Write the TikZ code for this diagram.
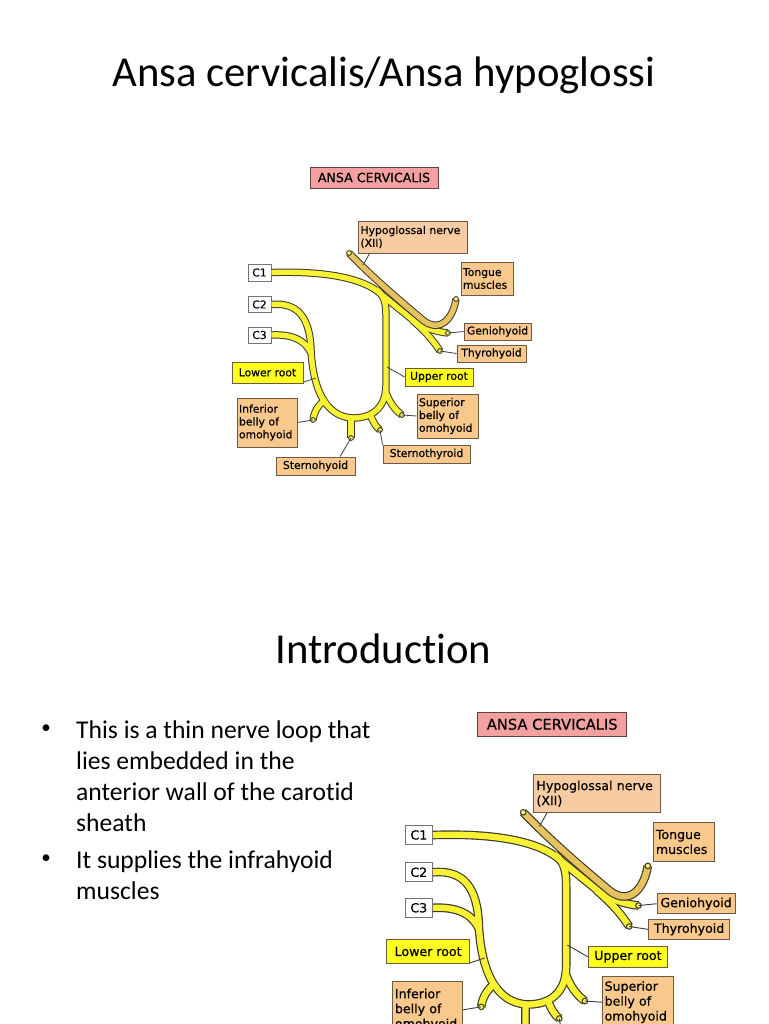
\documentclass[tikz,border=0pt]{standalone}
\usepackage{fontspec}
\setmainfont{Carlito}[Ligatures={NoCommon,NoRare}]
\newfontfamily\lblfont{DejaVu Sans}[FakeBold=0.5]
\definecolor{nerveY}{HTML}{F8F232}
\definecolor{nerveT}{HTML}{E8C25E}
\definecolor{outl}{HTML}{3A3A2C}
\definecolor{peach}{HTML}{F8C88C}
\definecolor{peachL}{HTML}{F8CCA2}
\definecolor{pinkbox}{HTML}{F2A0A0}
\definecolor{ybox}{HTML}{FFFF1E}
\definecolor{boxedge}{HTML}{6E5A44}
\tikzset{
  lbox/.style={draw=boxedge, line width={0.9pt*\dsc}, fill=peach, inner sep=0pt,
    font=\lblfont\fontsize{10.8}{12.8}\selectfont, text=black},
  cbox/.style={lbox, fill=white, draw=black!55, minimum width=23pt, minimum height=16pt},
  ybx/.style={lbox, fill=ybox},
  nout/.style={draw=outl, line width={7.4pt*\dsc}},
  nin/.style={draw=nerveY, line width={5.4pt*\dsc}},
  tout/.style={draw=outl, line width={7.4pt*\dsc}},
  tin/.style={draw=nerveT, line width={5.4pt*\dsc}},
  tipend/.style={draw=outl, fill=nerveY!70!white, line width={0.9pt*\dsc}},
  leader/.style={draw=black!75, line width={0.8pt*\dsc}},
  slidetitle/.style={anchor=base, font=\fontsize{42.7}{51}\selectfont, text=black},
  bullettext/.style={anchor=base west, inner sep=0pt, font=\fontsize{25.6}{31}\selectfont, text=black},
  bulletdot/.style={inner sep=0pt, font=\fontsize{19}{20}\selectfont, text=black}
}
\newcommand\ansanerves[1]{%
  \draw[#1] (c1.east) .. controls (318,271) and (362,276) .. (382,295) -- (414,321) .. controls (426,329) and (438,332) .. (genT);
  \draw[#1] (412,320) .. controls (424,330) and (433,340) .. (thyT);
  \draw[#1] (376,289) .. controls (386,297) and (386,306) .. (386,320) -- (386,385) .. controls (386,408) and (372,418) .. (353,418);
  \draw[#1] (c2.east) .. controls (298,302) and (310,318) .. (311,350) .. controls (313,388) and (325,417) .. (353,418);
  \draw[#1] (c3.east) .. controls (292,334) and (305,340) .. (311,353);
  \draw[#1] (326,399) .. controls (318,405) and (314,412) .. (infT);
  \draw[#1] (351,416) -- (shyT);
  \draw[#1] (370,414) .. controls (373,422) and (376,427) .. (sthT);
  \draw[#1] (385,390) .. controls (389,402) and (395,410) .. (supT);
}
\newcommand\hypoglossal[1]{%
  \draw[#1] (hypT) .. controls (375,280) and (405,305) .. (424,321) .. controls (441,333) and (453,318) .. (tongT);
}
\newcommand\ansadiagram[1]{%
  \def\dsc{#1}%
  % points on the nerves
  \coordinate (hypT) at (349,253);
  \coordinate (tongT) at (456,299);
  \coordinate (genT) at (448,333);
  \coordinate (thyT) at (440,351);
  \coordinate (infT) at (313,420);
  \coordinate (shyT) at (351,438);
  \coordinate (sthT) at (380,430);
  \coordinate (supT) at (402,415);
  \coordinate (hypP) at (363,265);
  \coordinate (lowP) at (316,378);
  \coordinate (upP) at (387,367);
  % boxes
  \node[lbox, fill=pinkbox, draw=black!60!pinkbox, minimum width=128pt, minimum height=21pt, font=\lblfont\fontsize{12.6}{14}\selectfont] (ansa) at (374,177.5) {ANSA CERVICALIS};
  \node[lbox, fill=peachL, minimum width=109pt, minimum height=32pt, text width=104pt, align=left] (hyp) at (412.5,237) {Hypoglossal nerve\\(XII)};
  \node[lbox, minimum width=52pt, minimum height=33pt, text width=48pt, align=left] (tong) at (487,278.5) {Tongue\\muscles};
  \node[cbox, minimum height=17pt] (c1) at (259.5,272.5) {C1};
  \node[cbox] (c2) at (259.5,304.5) {C2};
  \node[cbox] (c3) at (259.5,335) {C3};
  \node[lbox, minimum width=67pt, minimum height=17pt] (genio) at (497.5,331.5) {Geniohyoid};
  \node[lbox, minimum width=69pt, minimum height=17pt] (thyro) at (491.5,353.5) {Thyrohyoid};
  \node[ybx, minimum width=71pt, minimum height=21pt] (lower) at (267.5,372.5) {Lower root};
  \node[ybx, minimum width=68pt, minimum height=18pt] (upper) at (439,377) {Upper root};
  \node[lbox, minimum width=60pt, minimum height=49pt, text width=56pt, align=left] (inf) at (267,422.5) {Inferior\\belly of\\omohyoid};
  \node[lbox, minimum width=61pt, minimum height=44pt, text width=57pt, align=left] (sup) at (447.5,416) {Superior\\belly of\\omohyoid};
  \node[lbox, minimum width=87pt, minimum height=18pt] (sthy) at (426.5,454) {Sternothyroid};
  \node[lbox, minimum width=79pt, minimum height=18pt] (shy) at (315.5,466) {Sternohyoid};
  % nerves
  \ansanerves{nout}
  \ansanerves{nin}
  \hypoglossal{tout}
  \hypoglossal{tin}
  \foreach \t in {hypT,tongT,genT,thyT,infT,shyT,sthT,supT}{\draw[tipend] (\t) circle (2.4pt);}
  % leaders
  \draw[leader] (hyp.201.6) -- (hypP);
  \draw[leader] (lower.-15) -- (lowP);
  \draw[leader] (upper.west) -- (upP);
  \draw[leader] (genio.west) -- (genT);
  \draw[leader] (thyro.west) -- (thyT);
  \draw[leader] (inf.east) -- (infT);
  \draw[leader] (sup.west) -- (supT);
  \draw[leader] (sthy.north west) -- (sthT);
  \draw[leader] (shy.21.8) -- (shyT);
}
\begin{document}
\begin{tikzpicture}[x=1pt,y=-1pt]
\clip (0,0) rectangle (768,1024);
\fill[white] (0,0) rectangle (768,1024);
\node[slidetitle] (title) at (384,87) {Ansa cervicalis/Ansa hypoglossi};
\begin{scope}[name prefix=t-]
  \ansadiagram{1}
\end{scope}
\node[slidetitle] (intro) at (383.5,663) {Introduction};
\node[bulletdot] (bu1) at (46,729) {•};
\node[bullettext] (l1) at (76,738) {This is a thin nerve loop that};
\node[bullettext] (l2) at (76,769) {lies embedded in the};
\node[bullettext] (l3) at (76,800) {anterior wall of the carotid};
\node[bullettext] (l4) at (76,831) {sheath};
\node[bulletdot] (bu2) at (46,859) {•};
\node[bullettext] (l5) at (76,868) {It supplies the infrahyoid};
\node[bullettext] (l6) at (76,899) {muscles};
\begin{scope}[name prefix=b-, shift={(116.5,517.5)}, scale=1.165, transform shape]
  \ansadiagram{1.165}
\end{scope}
\end{tikzpicture}
\end{document}
